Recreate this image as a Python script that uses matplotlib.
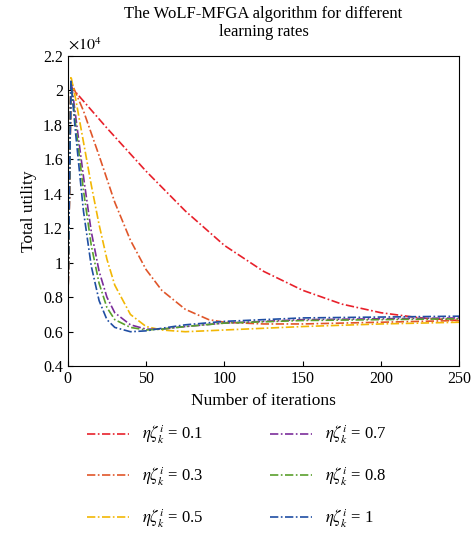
import matplotlib
matplotlib.use("Agg")
import matplotlib.pyplot as plt

plt.rcParams["font.family"] = ["Liberation Serif", "DejaVu Serif"]
plt.rcParams["mathtext.fontset"] = "stix"

# values in units of 1e4
x_red = [0, 2, 25, 50, 75, 100, 125, 150, 175, 200, 225, 250]
y_red = [0.7, 2.02, 1.78, 1.53, 1.30, 1.10, 0.95, 0.84, 0.76, 0.71, 0.68, 0.665]
x_orange = [0, 2, 10, 20, 30, 40, 50, 60, 75, 90, 100, 125, 150, 200, 250]
y_orange = [0.7, 2.05, 1.88, 1.62, 1.35, 1.13, 0.96, 0.84, 0.73, 0.67, 0.655, 0.645, 0.645, 0.655, 0.665]
x_fast = [0, 2, 5, 10, 15, 20, 25, 30, 40, 50, 60, 75, 100, 150, 200, 250]
y_yellow = [0.7, 2.08, 1.95, 1.70, 1.45, 1.22, 1.02, 0.87, 0.70, 0.63, 0.61, 0.60, 0.61, 0.63, 0.645, 0.655]
y_purple = [0.7, 2.06, 1.85, 1.50, 1.18, 0.95, 0.80, 0.71, 0.64, 0.615, 0.615, 0.63, 0.65, 0.67, 0.675, 0.68]
y_green = [0.7, 2.05, 1.80, 1.42, 1.10, 0.88, 0.74, 0.67, 0.625, 0.61, 0.615, 0.63, 0.65, 0.665, 0.67, 0.675]
y_blue = [0.7, 2.05, 1.75, 1.30, 0.98, 0.78, 0.67, 0.625, 0.60, 0.605, 0.62, 0.64, 0.66, 0.68, 0.685, 0.69]

labels = ["0.1", "0.3", "0.5", "0.7", "0.8", "1"]
colors = ["#e8212b", "#e0562a", "#f2b705", "#7b2d9b", "#5aa02c", "#1f4ea3"]
series = [(x_red, y_red), (x_orange, y_orange), (x_fast, y_yellow),
          (x_fast, y_purple), (x_fast, y_green), (x_fast, y_blue)]

fig = plt.figure(figsize=(4.74, 5.45), dpi=100)
ax = fig.add_axes([0.143, 0.328, 0.826, 0.57])

lines = []
for (xs, ys), lab, c in zip(series, labels, colors):
    ln, = ax.plot(xs, ys, color=c, lw=1.2, linestyle=(0, (5, 1.5, 1, 1.5)),
                  label=r"$\eta\zeta_k^i$ = " + lab)
    lines.append(ln)

ax.set_xlim(0, 250)
ax.set_ylim(0.4, 2.2)
ax.set_xticks([0, 50, 100, 150, 200, 250])
ax.set_yticks([0.4, 0.6, 0.8, 1.0, 1.2, 1.4, 1.6, 1.8, 2.0, 2.2])
ax.set_yticklabels(["0.4", "0.6", "0.8", "1", "1.2", "1.4", "1.6", "1.8", "2", "2.2"])
ax.tick_params(labelsize=11.5, direction="in")
ax.text(0.0, 1.005, r"$\times10^4$", transform=ax.transAxes, fontsize=11.5, va="bottom")
ax.set_xlabel("Number of iterations", fontsize=12.5)
ax.set_ylabel("Total utility", fontsize=12.5)
ax.set_title("The WoLF-MFGA algorithm for different\nlearning rates", fontsize=12, pad=14)

# legend fills column-wise: left column 0.1/0.3/0.5, right column 0.7/0.8/1
fig.legend(lines, [ln.get_label() for ln in lines],
           loc="lower center", bbox_to_anchor=(0.5, 0.0), ncol=2, frameon=False,
           fontsize=12, columnspacing=4, handlelength=2.5, labelspacing=1.1)

fig.savefig("out.png", dpi=100)
